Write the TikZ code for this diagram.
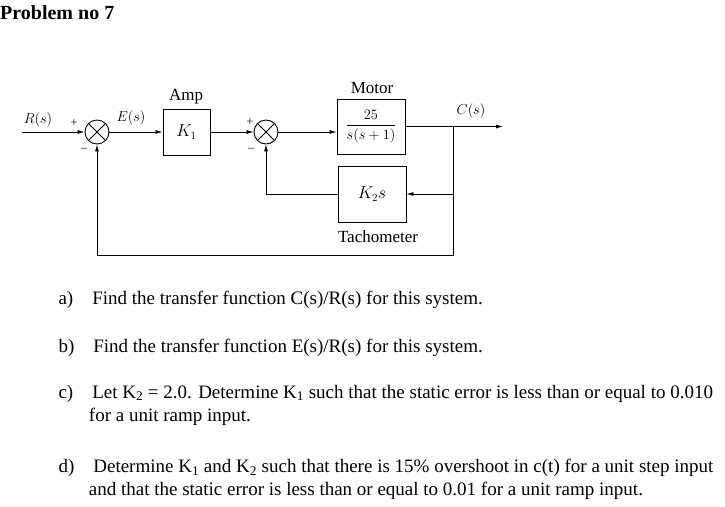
\documentclass[tikz,border=0pt]{standalone}
\usepackage{amsmath}
\usepackage{fontspec}
\setmainfont{Liberation Serif}
\usetikzlibrary{arrows.meta}
\begin{document}
\begin{tikzpicture}[x=1pt,y=-1pt,
  blk/.style={draw,line width=0.9pt,inner sep=0pt},
  sumn/.style={draw,circle,line width=0.9pt,minimum size=24pt,inner sep=0pt,path picture={\draw[line width=0.9pt] (path picture bounding box.north west)--(path picture bounding box.south east) (path picture bounding box.north east)--(path picture bounding box.south west);}},
  sig/.style={line width=0.8pt},
  arr/.style={sig,-{Latex[length=7pt,width=4pt]}},
  lbl/.style={font=\fontsize{15}{17}\selectfont},
  sgn/.style={font=\fontsize{12}{14}\selectfont},
  q/.style={font=\fontsize{19}{23}\selectfont,anchor=west,align=left}]
\useasboundingbox (0,0) rectangle (725,506);
\node[anchor=west,font=\bfseries\fontsize{20}{22}\selectfont,inner sep=0pt] (title) at (0,13) {Problem no 7};
% blocks
\coordinate (rin) at (22,132);
\node[sumn] (s1) at (97,132) {};
\node[blk,minimum width=47pt,minimum height=46pt,font=\fontsize{16}{18}\selectfont] (k1) at (186.5,132) {$K_1$};
\node[sumn] (s2) at (266,132) {};
\node[blk,minimum width=68pt,minimum height=55pt,font=\fontsize{15}{18}\selectfont] (mot) at (371,126.5) {$\dfrac{25}{s(s+1)}$};
\node[blk,minimum width=68pt,minimum height=56pt,font=\fontsize{16}{18}\selectfont] (tach) at (372,194) {$K_2s$};
\coordinate (br) at (453,126.5);
\coordinate (cout) at (503,126.5);
\coordinate (bot) at (453,255);
% connectors
\draw[arr] (rin) -- (s1);
\draw[arr] (s1) -- (k1);
\draw[arr] (k1) -- (s2);
\draw[arr] (s2.east) -- (mot.west |- s2.east);
\draw[arr] (mot.east) -- (cout);
\draw[arr] (br) |- (tach.east);
\draw[arr] (tach.west) -| (s2.south);
\draw[arr] (br) -- (bot) -| (s1.south);
% labels
\node[lbl] (lr) at (38,120) {$R(s)$};
\node[lbl] (le) at (131,118) {$E(s)$};
\node[lbl] (lc) at (471,111) {$C(s)$};
\node[sgn] (p1) at (74,123) {+};
\node[sgn] (m1) at (84,150) {--};
\node[sgn] (p2) at (250,122) {+};
\node[sgn] (m2) at (251,150) {--};
\node[lbl,font=\fontsize{17}{19}\selectfont] (amp) at (186,97) {Amp};
\node[lbl,font=\fontsize{17}{19}\selectfont] (motl) at (372,88) {Motor};
\node[lbl,font=\fontsize{17}{19}\selectfont] (tl) at (378,237) {Tachometer};
% questions
\node[q] (qa) at (55,300) {a)\hspace{0.75em} Find the transfer function C(s)/R(s) for this system.};
\node[q] (qb) at (55,348) {b)\hspace{0.75em} Find the transfer function E(s)/R(s) for this system.};
\node[q] (qc) at (55,405) {c)\hspace{0.75em} Let K\textsubscript{2} = 2.0. Determine K\textsubscript{1} such that the static error is less than or equal to 0.010\\\hspace{1.6em}for a unit ramp input.};
\node[q] (qd) at (55,479) {d)\hspace{0.75em} Determine K\textsubscript{1} and K\textsubscript{2} such that there is 15\% overshoot in c(t) for a unit step input\\\hspace{1.6em}and that the static error is less than or equal to 0.01 for a unit ramp input.};
\end{tikzpicture}
\end{document}
